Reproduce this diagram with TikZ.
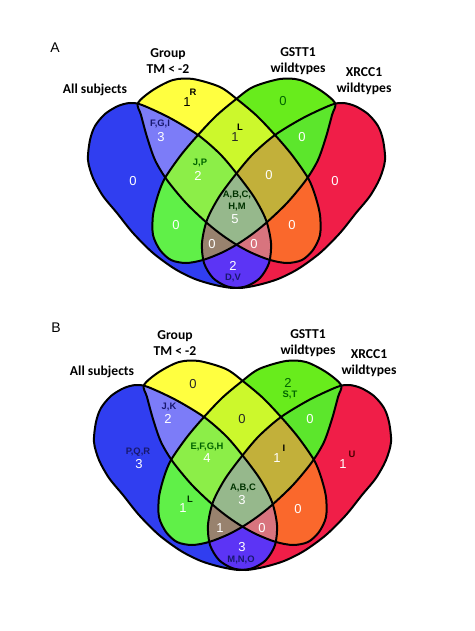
\documentclass[tikz,border=0pt]{standalone}
\usepackage{fontspec}
\setmainfont{Carlito}
\newfontfamily\arf{Liberation Sans}
\definecolor{cB}{RGB}{48,62,240}
\definecolor{cY}{RGB}{255,255,64}
\definecolor{cG}{RGB}{104,236,28}
\definecolor{cR}{RGB}{240,30,72}
\definecolor{cBY}{RGB}{124,124,248}
\definecolor{cYG}{RGB}{204,248,44}
\definecolor{cBYG}{RGB}{140,238,72}
\definecolor{cGR}{RGB}{92,230,44}
\definecolor{cYGR}{RGB}{194,176,58}
\definecolor{cAll}{RGB}{150,184,140}
\definecolor{cBG}{RGB}{96,240,72}
\definecolor{cYR}{RGB}{250,104,44}
\definecolor{cBGR}{RGB}{152,130,110}
\definecolor{cBYR}{RGB}{216,116,126}
\definecolor{cBR}{RGB}{92,52,245}
\definecolor{navy}{RGB}{24,24,110}
\definecolor{dgreen}{RGB}{0,100,0}
\newcommand\bluepts{(88,160) (90,140) (95,126) (105,114) (118,106) (130,103) (142,105) (170,118) (198,135) (220,154) (237,174) (254,197) (266,220) (271,243) (269,263) (260,278) (247,286) (233,288) (215,285) (195,279) (175,269) (153,253) (133,233) (117,213) (103,196) (93,178)}
\newcommand\yelpts{(138,103) (153,90) (173,80) (193,79) (220,87) (238,100) (257,116) (275,135) (292,155) (308,178) (315,195) (320,215) (320,235) (313,250) (302,260) (287,263) (270,260) (252,253) (237,245) (222,235) (207,223) (186,203) (167,180) (155,160) (147,137) (141,115)}
\newcommand\EB[1]{\path[#1] plot[smooth cycle] coordinates {\bluepts};}
\newcommand\EY[1]{\path[#1] plot[smooth cycle] coordinates {\yelpts};}
\newcommand\EG[1]{\path[#1,shift={(473,0)},xscale=-1] plot[smooth cycle] coordinates {\yelpts};}
\newcommand\ER[1]{\path[#1,shift={(473,0)},xscale=-1] plot[smooth cycle] coordinates {\bluepts};}
\newcommand\venn{%
  \EB{fill=cB}\EY{fill=cY}\EG{fill=cG}\ER{fill=cR}
  \begin{scope}\EB{clip}\EY{fill=cBY}\end{scope}
  \begin{scope}\EB{clip}\EG{fill=cBG}\end{scope}
  \begin{scope}\EB{clip}\ER{fill=cBR}\end{scope}
  \begin{scope}\EY{clip}\EG{fill=cYG}\end{scope}
  \begin{scope}\EY{clip}\ER{fill=cYR}\end{scope}
  \begin{scope}\EG{clip}\ER{fill=cGR}\end{scope}
  \begin{scope}\EB{clip}\EY{clip}\EG{fill=cBYG}\end{scope}
  \begin{scope}\EB{clip}\EY{clip}\ER{fill=cBYR}\end{scope}
  \begin{scope}\EB{clip}\EG{clip}\ER{fill=cBGR}\end{scope}
  \begin{scope}\EY{clip}\EG{clip}\ER{fill=cYGR}\end{scope}
  \begin{scope}\EB{clip}\EY{clip}\EG{clip}\ER{fill=cAll}\end{scope}
  \EB{outl}\EY{outl}\EG{outl}\ER{outl}%
}
\begin{document}
\begin{tikzpicture}[x=1pt,y=-1pt,
  outl/.style={draw=black,line width=2pt},
  ttl/.style={font=\fontsize{13.6}{16.5}\selectfont\bfseries,align=center,inner sep=0pt},
  num/.style={font=\arf\fontsize{13}{13}\selectfont,text=white,inner sep=0pt},
  lt/.style={font=\arf\bfseries\fontsize{9.4}{12}\selectfont,text=navy,inner sep=0pt,align=center},
  plab/.style={font=\arf\fontsize{14}{14}\selectfont,inner sep=0pt}]
\useasboundingbox (0,0) rectangle (474,631);
\fill[white] (0,0) rectangle (474,631);
% Panel A
\venn
\node[plab] (pA) at (55,48) {A};
\node[ttl] (gA) at (168,61) {Group\\TM < -2};
\node[ttl] (asA) at (95,90) {All subjects};
\node[ttl] (gsA) at (298,61) {GSTT1\\wildtypes};
\node[ttl] (xrA) at (364,81) {XRCC1\\wildtypes};
\node[num,text=black] (a1) at (187,102) {1};
\node[lt,text=black] (a1l) at (193,92) {R};
\node[num,text=dgreen] (a2) at (283,101) {0};
\node[lt] (a3l) at (160,124) {F,G,I};
\node[num] (a3) at (161,137) {3};
\node[num,text=black!85] (a4) at (235,137) {1};
\node[lt,text=black] (a4l) at (240,127) {L};
\node[num] (a5) at (302,137) {0};
\node[lt,text=dgreen] (a6l) at (200,163) {J,P};
\node[num] (a6) at (198,175.5) {2};
\node[num] (a7) at (269,175) {0};
\node[num] (a8) at (133,181) {0};
\node[num] (a9) at (335,181) {0};
\node[lt,text=black!80!green] (a10l) at (237,201) {A,B,C,\\H,M};
\node[num] (a10) at (235,219) {5};
\node[num] (a11) at (176,225) {0};
\node[num] (a12) at (292,225) {0};
\node[num] (a13) at (212,244) {0};
\node[num] (a14) at (254,244) {0};
\node[num] (a15) at (233,266) {2};
\node[lt] (a15l) at (233,278) {D,V};
% Panel B
\begin{scope}[shift={(6,282)}]
\venn
\end{scope}
\node[plab] (pB) at (56,328) {B};
\node[ttl] (gB) at (175,343) {Group\\TM < -2};
\node[ttl] (asB) at (102,372) {All subjects};
\node[ttl] (gsB) at (308,343) {GSTT1\\wildtypes};
\node[ttl] (xrB) at (369,363) {XRCC1\\wildtypes};
\node[num,text=black!85] (b1) at (193,384) {0};
\node[num,text=dgreen] (b2) at (288,383) {2};
\node[lt,text=dgreen] (b2l) at (290,395) {S,T};
\node[lt] (b3l) at (169,407) {J,K};
\node[num] (b3) at (168,419) {2};
\node[num,text=black!85] (b4) at (242,419) {0};
\node[num] (b5) at (310,419) {0};
\node[lt] (b6l) at (138,452) {P,Q,R};
\node[num] (b6) at (139,464) {3};
\node[lt,text=dgreen] (b7l) at (207,447) {E,F,G,H};
\node[num] (b7) at (207,458) {4};
\node[num] (b8) at (277,458) {1};
\node[lt,text=black] (b8l) at (284,448) {I};
\node[num] (b9) at (343,464) {1};
\node[lt,text=black!70!red] (b9l) at (352,454) {U};
\node[lt,text=black!80!green] (b10l) at (243,488) {A,B,C};
\node[num] (b10) at (242,500) {3};
\node[num] (b11) at (183,508) {1};
\node[lt,text=black!80!green] (b11l) at (190,499) {L};
\node[num] (b12) at (298,509) {0};
\node[num] (b13) at (220,528) {1};
\node[num] (b14) at (262,528) {0};
\node[num] (b15) at (242,547.5) {3};
\node[lt] (b15l) at (241,560) {M,N,O};
\end{tikzpicture}
\end{document}
